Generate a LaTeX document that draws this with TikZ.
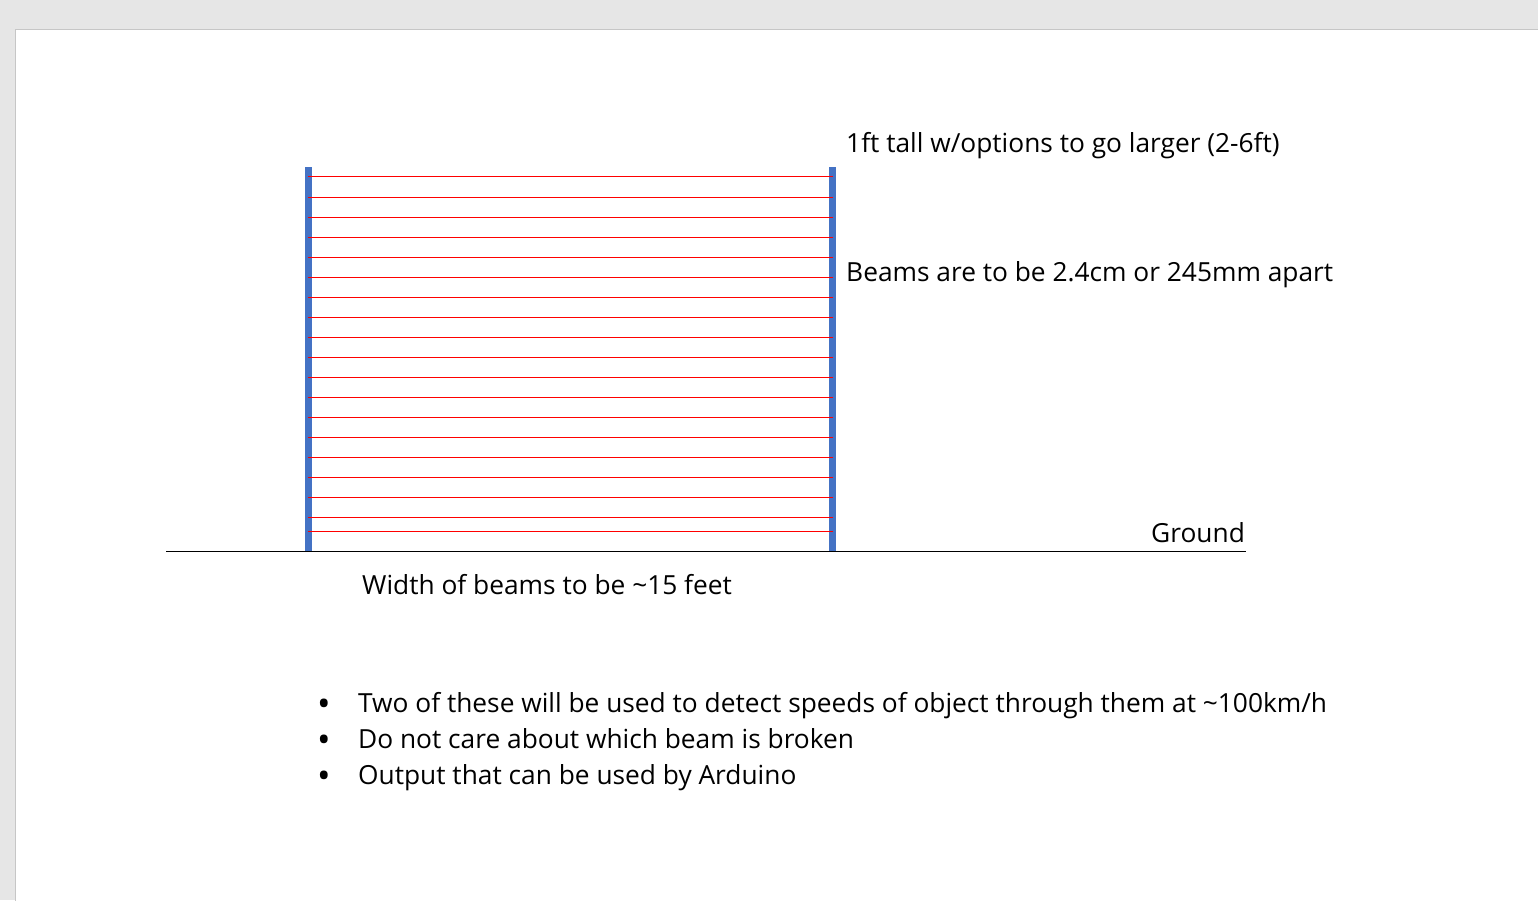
\documentclass[tikz,border=0pt]{standalone}
\usepackage{fontspec}
\setmainfont{Open Sans}
\definecolor{pagegray}{HTML}{E6E6E6}
\definecolor{pageedge}{HTML}{C6C6C6}
\definecolor{postblue}{HTML}{4472C4}
\tikzset{
  post/.style={postblue, line width=7pt},
  beam/.style={red, line width=1pt},
  ground/.style={black, line width=1pt},
  label/.style={anchor=base west, inner sep=0pt, font=\fontsize{26.3}{30}\selectfont},
  bulletmark/.style={anchor=base west, inner sep=0pt, font=\fontsize{36}{40}\selectfont},
}

\begin{document}
\begin{tikzpicture}[x=1pt, y=-1pt]
  \useasboundingbox (0,0) rectangle (1538,900);

  % page
  \fill [pagegray] (0,0) rectangle (1538,900);
  \filldraw [fill=white, draw=pageedge] (15.5,29.5) rectangle (1560,920);

  % coordinates to be reused
  \coordinate (LT) at (308,167);
  \coordinate (LB) at (308,551);
  \coordinate (RT) at (832.5,167);
  \coordinate (RB) at (832.5,551);
  \coordinate (G1) at (166,551);
  \coordinate (G2) at (1246,551);

  % draw figure
  \draw [ground] (G1) -- (G2);
  \draw [post] (LT) -- (LB);
  \draw [post] (RT) -- (RB);
  \foreach \y in {176,531}
    \draw [beam] (308,\y) -- (833,\y);
  \foreach \y in {197,217,...,517}
    \draw [beam] (308,\y) -- (833,\y);

  % add labels
  \node [label] (tall) at (846,152) {1ft tall w/options to go larger (2-6ft)};
  \node [label] (apart) at (846,281) {Beams are to be 2.4cm or 245mm apart};
  \node [label] (groundtext) at (1151,542) {Ground};
  \node [label] (width) at (362,594) {Width of beams to be \textasciitilde15 feet};

  % bullet list
  \node [bulletmark] (b1) at (317,716) {•};
  \node [bulletmark] (b2) at (317,752) {•};
  \node [bulletmark] (b3) at (317,788) {•};
  \node [label] (speed) at (358,712) {Two of these will be used to detect speeds of object through them at \textasciitilde100km/h};
  \node [label] (care) at (358,748) {Do not care about which beam is broken};
  \node [label] (output) at (358,784) {Output that can be used by Arduino};
\end{tikzpicture}
\end{document}
